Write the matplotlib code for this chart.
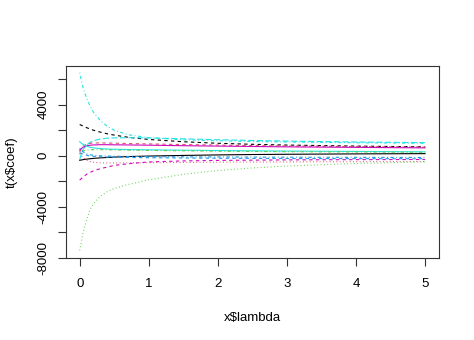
import numpy as np
import matplotlib.pyplot as plt

plt.rcParams['font.family'] = ['Liberation Sans', 'DejaVu Sans']

# ridge trace: coefficient paths over lambda
lam = [0, 0.02, 0.05, 0.1, 0.15, 0.2, 0.3, 0.4, 0.5, 0.7, 1, 1.5, 2, 2.5, 3, 4, 5]

coef_cyan_dd = [6500, 6000, 5300, 4500, 3900, 3400, 2750, 2300, 2000, 1650, 1420, 1250, 1180, 1120, 1080, 1020, 980]
coef_black_dash = [2450, 2400, 2320, 2200, 2100, 2000, 1850, 1720, 1620, 1450, 1280, 1100, 980, 900, 840, 760, 700]
coef_cyan_long = [-300, 100, 500, 850, 1050, 1180, 1320, 1380, 1400, 1420, 1400, 1330, 1260, 1200, 1150, 1080, 1030]
coef_red_dash = [300, 500, 750, 920, 980, 1000, 1010, 1000, 990, 960, 930, 880, 840, 800, 770, 720, 680]
coef_mag_solid = [450, 550, 680, 780, 830, 850, 870, 870, 860, 850, 830, 790, 760, 730, 700, 660, 620]
coef_cyan_solid = [1100, 1000, 880, 750, 670, 620, 560, 530, 510, 490, 470, 440, 410, 390, 370, 340, 310]
coef_green_dd = [150, 250, 380, 450, 470, 480, 480, 470, 460, 440, 420, 390, 360, 340, 320, 300, 280]
coef_black_solid = [-350, -330, -300, -260, -230, -200, -160, -130, -100, -60, -20, 30, 70, 100, 120, 150, 170]
coef_blue_dash = [250, 200, 120, 40, -10, -40, -80, -100, -110, -130, -150, -170, -190, -200, -210, -220, -230]
coef_blue_dd = [600, 450, 300, 150, 80, 40, 0, -20, -30, -50, -60, -80, -90, -100, -110, -120, -130]
coef_red_dot = [200, 50, -150, -350, -450, -500, -550, -560, -560, -550, -540, -520, -500, -490, -480, -460, -450]
coef_mag_dash = [-1900, -1800, -1650, -1450, -1300, -1180, -1000, -880, -750, -620, -480, -400, -360, -340, -320, -300, -290]
coef_green_dot = [-7400, -6800, -6000, -5000, -4200, -3750, -3150, -2800, -2550, -2250, -1880, -1450, -1150, -950, -800, -600, -470]

# R-style dash patterns (points)
solid = '-'
dashed = (0, (3, 3))
dotted = (0, (0.8, 2.2))
dotdash = (0, (0.8, 2.2, 3, 2.2))
longdash = (0, (5.5, 2.2))

black, red, green, blue, cyan, magenta = 'black', '#DF536B', '#61D04F', '#2297E6', '#28E2E5', '#CD0BBC'

series = [
    (coef_cyan_dd, cyan, dotdash),
    (coef_black_dash, black, dashed),
    (coef_cyan_long, cyan, longdash),
    (coef_red_dash, red, dashed),
    (coef_mag_solid, magenta, solid),
    (coef_cyan_solid, cyan, solid),
    (coef_green_dd, green, dotdash),
    (coef_black_solid, black, solid),
    (coef_blue_dash, blue, dashed),
    (coef_blue_dd, blue, dotdash),
    (coef_red_dot, red, dotted),
    (coef_mag_dash, magenta, dashed),
    (coef_green_dot, green, dotted),
]

fig = plt.figure(figsize=(4.74, 3.4), dpi=100)
ax = fig.add_axes([0.139, 0.241, 0.787, 0.566])

for vals, col, ls in series:
    ax.plot(lam, vals, color=col, linestyle=ls, linewidth=0.8)

# 4% padding like R's default axis style
ymin = min(min(s[0]) for s in series)
ymax = max(max(s[0]) for s in series)
pad = 0.04 * (ymax - ymin)
ax.set_ylim(ymin - pad, ymax + pad)
ax.set_xlim(-0.2, 5.2)

ax.set_xticks([0, 1, 2, 3, 4, 5])
yt = [-8000, -6000, -4000, -2000, 0, 2000, 4000, 6000]
ax.set_yticks(yt)
ax.set_yticklabels([str(v) if v % 4000 == 0 else '' for v in yt], rotation=90, va='center')
ax.tick_params(direction='out', length=6, width=0.8, labelsize=9.5, colors='#333333', labelcolor='black')
ax.tick_params(axis='x', pad=8)
ax.tick_params(axis='y', pad=6)
for sp in ax.spines.values():
    sp.set_linewidth(0.8)
    sp.set_color('#333333')

ax.set_xlabel('x$lambda', fontsize=9.5, labelpad=16)
ax.set_ylabel('t(x$coef)', fontsize=9.5, labelpad=14)

plt.savefig('out.png', dpi=100)
